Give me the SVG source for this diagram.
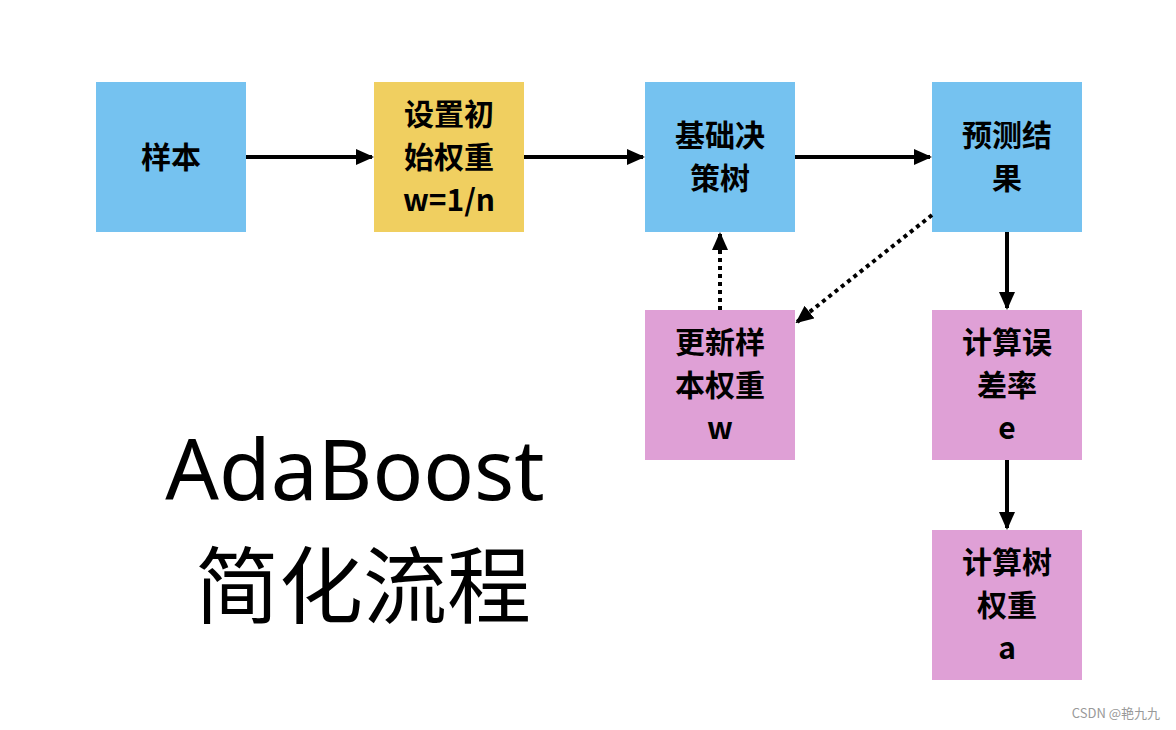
<svg xmlns="http://www.w3.org/2000/svg" width="1176" height="730" viewBox="0 0 1176 730">
<style>
.t{font-family:"Noto Sans CJK SC","Noto Sans",sans-serif;font-size:30px;font-weight:bold;fill:#000;text-anchor:middle}
.b{fill:#75C2F0}.y{fill:#F0CF60}.p{fill:#DFA0D6}
.c{stroke:#000;stroke-width:4;fill:none}
.d{stroke-dasharray:4 4}
</style>
<defs><marker id="a" markerWidth="10" markerHeight="10" refX="8" refY="5" orient="auto" markerUnits="userSpaceOnUse" viewBox="0 0 10 10"><path d="M0,0L10,5L0,10z" fill="#000"/></marker>
<marker id="a2" markerWidth="18" markerHeight="16" refX="16" refY="8" orient="auto" markerUnits="userSpaceOnUse" viewBox="0 0 18 16"><path d="M0,0L18,8L0,16z" fill="#000"/></marker></defs>
<rect width="1176" height="730" fill="#fff"/>
<g id="n1"><rect class="b" x="96" y="82" width="150" height="150"/><text class="t" x="171" y="168">样本</text></g>
<g id="n2"><rect class="y" x="374" y="82" width="150" height="150"/><text class="t" x="449" y="125">设置初</text><text class="t" x="449" y="168">始权重</text><text class="t" x="449" y="211">w=1/n</text></g>
<g id="n3"><rect class="b" x="645" y="82" width="150" height="150"/><text class="t" x="720" y="146">基础决</text><text class="t" x="720" y="189">策树</text></g>
<g id="n4"><rect class="b" x="932" y="82" width="150" height="150"/><text class="t" x="1007" y="146">预测结</text><text class="t" x="1007" y="189">果</text></g>
<g id="n5"><rect class="p" x="645" y="310" width="150" height="150"/><text class="t" x="720" y="353">更新样</text><text class="t" x="720" y="396">本权重</text><text class="t" x="720" y="439">w</text></g>
<g id="n6"><rect class="p" x="932" y="310" width="150" height="150"/><text class="t" x="1007" y="353">计算误</text><text class="t" x="1007" y="396">差率</text><text class="t" x="1007" y="439">e</text></g>
<g id="n7"><rect class="p" x="932" y="530" width="150" height="150"/><text class="t" x="1007" y="573">计算树</text><text class="t" x="1007" y="616">权重</text><text class="t" x="1007" y="659">a</text></g>
<g id="connectors">
<line class="c" x1="246" y1="157" x2="372" y2="157" marker-end="url(#a2)"/>
<line class="c" x1="524" y1="157" x2="643" y2="157" marker-end="url(#a2)"/>
<line class="c" x1="795" y1="157" x2="930" y2="157" marker-end="url(#a2)"/>
<line class="c" x1="1007" y1="232" x2="1007" y2="308" marker-end="url(#a2)"/>
<line class="c" x1="1007" y1="460" x2="1007" y2="528" marker-end="url(#a2)"/>
<line class="c d" x1="932" y1="215" x2="797" y2="322" marker-end="url(#a2)"/>
<line class="c d" x1="720" y1="310" x2="720" y2="234" marker-end="url(#a2)"/>
</g>
<text x="355" y="500" font-family="'Noto Sans','Open Sans',sans-serif" font-size="84" text-anchor="middle">AdaBoost</text>
<text x="363" y="617" font-family="'Noto Sans CJK SC',sans-serif" font-size="84" text-anchor="middle">简化流程</text>
<text x="1160" y="718" font-family="'Noto Sans CJK SC',sans-serif" font-size="13" fill="#999" text-anchor="end">CSDN @艳九九</text>
</svg>
